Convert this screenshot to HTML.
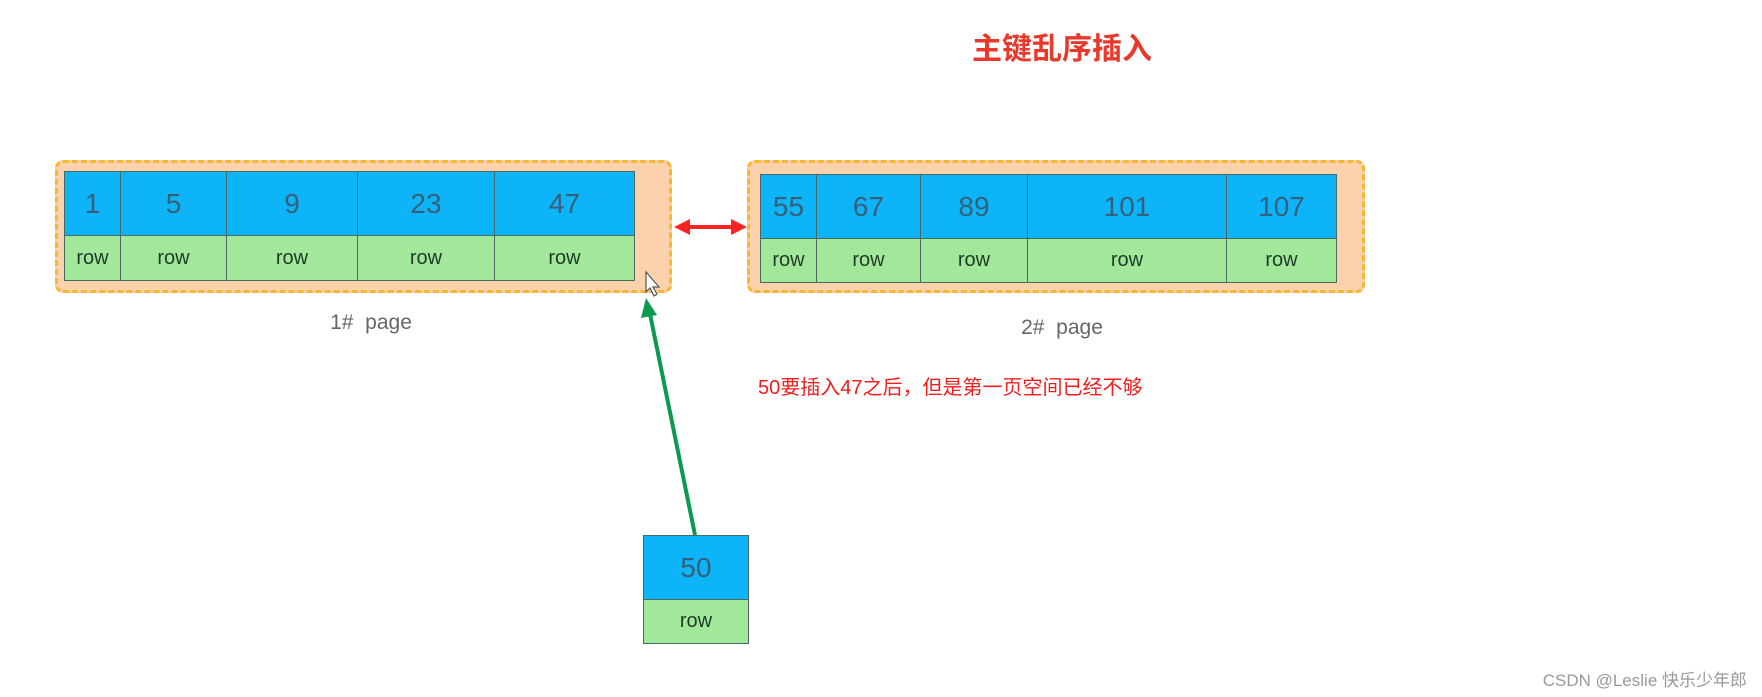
<!DOCTYPE html>
<html><head><meta charset="utf-8"><style>
body{margin:0;width:1762px;height:697px;background:#fff;position:relative;overflow:hidden;font-family:"Liberation Sans","Noto Sans CJK SC",sans-serif}
.a{position:absolute}
.page{position:absolute;background:#fbd2ac;border:3px dashed #f7b733;border-radius:8px;box-sizing:border-box}
.c{position:absolute;box-sizing:border-box;border:1px solid #4a6a60;display:flex;align-items:center;justify-content:center}
.k{background:#0db4f8;color:#36607a;font-size:28px}
.r{background:#a1e89a;color:#1f3a28;font-size:20px}
</style></head><body>
<div class="a" style="left:962px;top:24px;width:200px;text-align:center;color:#e8392b;font-size:30px;font-weight:bold">主键乱序插入</div>
<div class="page" style="left:55px;top:160px;width:617px;height:133px"></div>
<div class="page" style="left:747px;top:160px;width:618px;height:133px"></div>
<div id="t1"></div>
<script>
function tbl(cols,y0,ys,y1,keys){let h='';for(let i=0;i<keys.length;i++){const x=cols[i],w=cols[i+1]-cols[i];
h+=`<div class="c k" style="left:${x}px;top:${y0}px;width:${w+1}px;height:${ys-y0+1}px">${keys[i]}</div>`;
h+=`<div class="c r" style="left:${x}px;top:${ys}px;width:${w+1}px;height:${y1-ys}px">row</div>`;}
document.body.insertAdjacentHTML('beforeend',h);}
tbl([64,120,226,357,494,634],171,235,281,[1,5,9,23,47]);
tbl([760,816,920,1027,1226,1336],174,238,283,[55,67,89,101,107]);
tbl([643,748],535,599,644,[50]);
</script>
<div class="a" style="left:291px;top:311px;width:160px;text-align:center;color:#666;font-size:21px">1#&nbsp; page</div>
<div class="a" style="left:982px;top:316px;width:160px;text-align:center;color:#666;font-size:21px">2#&nbsp; page</div>
<div class="a" style="left:758px;top:371px;color:#f21d1d;font-size:20px">50要插入47之后，但是第一页空间已经不够</div>
<div class="a" style="right:15px;top:666px;color:#999;font-size:17px">CSDN @Leslie 快乐少年郎</div>
<svg class="a" style="left:0;top:0" width="1762" height="697">
<line x1="686" y1="227" x2="736" y2="227" stroke="#f22" stroke-width="4"/>
<polygon points="674,227 690,219 690,235" fill="#f22"/>
<polygon points="747,227 731,219 731,235" fill="#f22"/>
<line x1="695" y1="535" x2="650" y2="314" stroke="#0a9a50" stroke-width="4"/>
<polygon points="646,298 641,318 657,315" fill="#0a9a50"/>
<path d="M646 272 L646 292 L650 288 L654 296 L657 294 L653 287 L659 287 Z" fill="#fff" stroke="#555" stroke-width="1.2"/>
</svg>
</body></html>
